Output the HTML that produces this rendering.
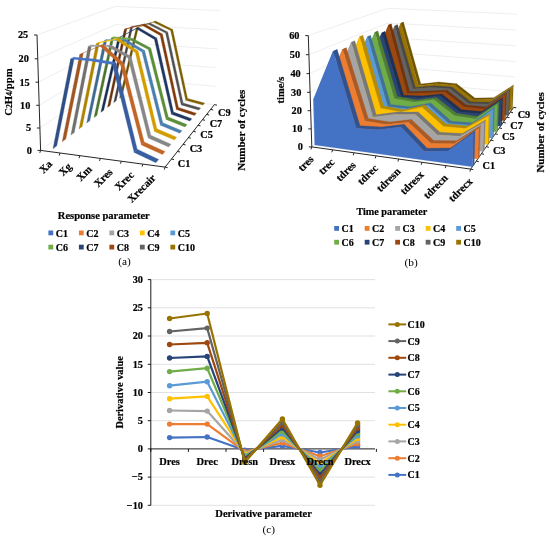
<!DOCTYPE html>
<html><head><meta charset="utf-8"><title>Figure</title>
<style>html,body{margin:0;padding:0;background:#fff}svg{display:block}text{font-family:"Liberation Serif",serif}</style></head>
<body>
<svg width="550" height="537" viewBox="0 0 550 537" font-family="Liberation Serif, serif">
<line x1="40.6" y1="150.4" x2="115.9" y2="95.0" stroke="#E6E6E6" stroke-width="0.7"/>
<line x1="115.9" y1="95.0" x2="214.4" y2="104.6" stroke="#E6E6E6" stroke-width="0.7"/>
<line x1="39.9" y1="128.0" x2="115.8" y2="77.7" stroke="#E6E6E6" stroke-width="0.7"/>
<line x1="115.8" y1="77.7" x2="215.5" y2="86.3" stroke="#E6E6E6" stroke-width="0.7"/>
<line x1="39.2" y1="105.3" x2="115.6" y2="60.2" stroke="#E6E6E6" stroke-width="0.7"/>
<line x1="115.6" y1="60.2" x2="216.6" y2="67.7" stroke="#E6E6E6" stroke-width="0.7"/>
<line x1="38.5" y1="82.2" x2="115.5" y2="42.5" stroke="#E6E6E6" stroke-width="0.7"/>
<line x1="115.5" y1="42.5" x2="217.7" y2="48.9" stroke="#E6E6E6" stroke-width="0.7"/>
<line x1="37.7" y1="58.8" x2="115.4" y2="24.6" stroke="#E6E6E6" stroke-width="0.7"/>
<line x1="115.4" y1="24.6" x2="218.9" y2="29.8" stroke="#E6E6E6" stroke-width="0.7"/>
<line x1="37.0" y1="35.0" x2="115.3" y2="6.4" stroke="#E6E6E6" stroke-width="0.7"/>
<line x1="115.3" y1="6.4" x2="220.0" y2="10.5" stroke="#E6E6E6" stroke-width="0.7"/>
<line x1="40.6" y1="150.4" x2="37.0" y2="35.0" stroke="#262626" stroke-width="1.0"/>
<line x1="40.6" y1="150.4" x2="165.1" y2="167.1" stroke="#262626" stroke-width="1.0"/>
<line x1="165.1" y1="167.1" x2="214.4" y2="104.6" stroke="#262626" stroke-width="1.0"/>
<line x1="37.6" y1="150.4" x2="40.6" y2="150.4" stroke="#262626" stroke-width="1.0"/>
<line x1="36.9" y1="128.0" x2="39.9" y2="128.0" stroke="#262626" stroke-width="1.0"/>
<line x1="36.2" y1="105.3" x2="39.2" y2="105.3" stroke="#262626" stroke-width="1.0"/>
<line x1="35.5" y1="82.2" x2="38.5" y2="82.2" stroke="#262626" stroke-width="1.0"/>
<line x1="34.7" y1="58.8" x2="37.7" y2="58.8" stroke="#262626" stroke-width="1.0"/>
<line x1="34.0" y1="35.0" x2="37.0" y2="35.0" stroke="#262626" stroke-width="1.0"/>
<line x1="40.6" y1="150.4" x2="39.8" y2="152.9" stroke="#262626" stroke-width="1.0"/>
<line x1="60.0" y1="153.0" x2="59.2" y2="155.5" stroke="#262626" stroke-width="1.0"/>
<line x1="79.8" y1="155.7" x2="79.0" y2="158.2" stroke="#262626" stroke-width="1.0"/>
<line x1="100.3" y1="158.4" x2="99.5" y2="160.9" stroke="#262626" stroke-width="1.0"/>
<line x1="121.3" y1="161.2" x2="120.5" y2="163.7" stroke="#262626" stroke-width="1.0"/>
<line x1="142.9" y1="164.1" x2="142.1" y2="166.6" stroke="#262626" stroke-width="1.0"/>
<line x1="165.1" y1="167.1" x2="164.3" y2="169.6" stroke="#262626" stroke-width="1.0"/>
<line x1="165.1" y1="167.1" x2="167.7" y2="167.7" stroke="#262626" stroke-width="1.0"/>
<line x1="171.4" y1="159.0" x2="174.0" y2="159.6" stroke="#262626" stroke-width="1.0"/>
<line x1="177.4" y1="151.4" x2="180.0" y2="152.0" stroke="#262626" stroke-width="1.0"/>
<line x1="183.0" y1="144.3" x2="185.6" y2="144.9" stroke="#262626" stroke-width="1.0"/>
<line x1="188.3" y1="137.6" x2="190.9" y2="138.2" stroke="#262626" stroke-width="1.0"/>
<line x1="193.2" y1="131.3" x2="195.8" y2="131.9" stroke="#262626" stroke-width="1.0"/>
<line x1="197.9" y1="125.3" x2="200.5" y2="125.9" stroke="#262626" stroke-width="1.0"/>
<line x1="202.4" y1="119.7" x2="205.0" y2="120.3" stroke="#262626" stroke-width="1.0"/>
<line x1="206.6" y1="114.4" x2="209.2" y2="115.0" stroke="#262626" stroke-width="1.0"/>
<line x1="210.6" y1="109.4" x2="213.2" y2="110.0" stroke="#262626" stroke-width="1.0"/>
<line x1="214.4" y1="104.6" x2="217.0" y2="105.2" stroke="#262626" stroke-width="1.0"/>
<polygon points="119.6,98.1 136.2,28.1 138.5,27.0 122.0,96.4" fill="#684E00" stroke="#684E00" stroke-width="0.3"/>
<polygon points="136.2,28.1 153.4,22.2 155.6,21.1 138.5,27.0" fill="#997300" stroke="#997300" stroke-width="0.3"/>
<polygon points="153.4,22.2 170.7,30.6 172.7,29.5 155.6,21.1" fill="#7D5E00" stroke="#7D5E00" stroke-width="0.3"/>
<polygon points="170.7,30.6 185.7,100.2 187.5,98.4 172.7,29.5" fill="#7D5E00" stroke="#7D5E00" stroke-width="0.3"/>
<polygon points="185.7,100.2 203.0,105.1 204.6,103.1 187.5,98.4" fill="#7D5E00" stroke="#7D5E00" stroke-width="0.3"/>
<polygon points="113.7,102.6 130.4,27.4 132.8,26.3 116.2,100.8" fill="#434343" stroke="#434343" stroke-width="0.3"/>
<polygon points="130.4,27.4 147.9,24.1 150.2,23.0 132.8,26.3" fill="#636363" stroke="#636363" stroke-width="0.3"/>
<polygon points="147.9,24.1 165.6,33.1 167.7,31.9 150.2,23.0" fill="#515151" stroke="#515151" stroke-width="0.3"/>
<polygon points="165.6,33.1 181.2,104.9 183.1,103.0 167.7,31.9" fill="#515151" stroke="#515151" stroke-width="0.3"/>
<polygon points="181.2,104.9 198.8,110.1 200.6,108.1 183.1,103.0" fill="#515151" stroke="#515151" stroke-width="0.3"/>
<polygon points="107.5,107.3 124.3,29.5 126.9,28.3 110.1,105.4" fill="#6B310A" stroke="#6B310A" stroke-width="0.3"/>
<polygon points="124.3,29.5 142.1,25.3 144.6,24.1 126.9,28.3" fill="#9E480E" stroke="#9E480E" stroke-width="0.3"/>
<polygon points="142.1,25.3 160.2,35.4 162.4,34.1 144.6,24.1" fill="#823B0B" stroke="#823B0B" stroke-width="0.3"/>
<polygon points="160.2,35.4 176.4,109.5 178.4,107.4 162.4,34.1" fill="#823B0B" stroke="#823B0B" stroke-width="0.3"/>
<polygon points="176.4,109.5 194.5,115.4 196.3,113.3 178.4,107.4" fill="#823B0B" stroke="#823B0B" stroke-width="0.3"/>
<polygon points="100.9,112.3 117.9,38.2 120.6,36.9 103.7,110.2" fill="#1A2E52" stroke="#1A2E52" stroke-width="0.3"/>
<polygon points="117.9,38.2 136.0,28.6 138.6,27.4 120.6,36.9" fill="#1A2E52" stroke="#1A2E52" stroke-width="0.3"/>
<polygon points="136.0,28.6 154.4,39.4 156.8,38.1 138.6,27.4" fill="#1F3862" stroke="#1F3862" stroke-width="0.3"/>
<polygon points="154.4,39.4 171.4,114.3 173.5,112.1 156.8,38.1" fill="#1F3862" stroke="#1F3862" stroke-width="0.3"/>
<polygon points="171.4,114.3 189.9,121.0 191.8,118.8 173.5,112.1" fill="#1F3862" stroke="#1F3862" stroke-width="0.3"/>
<polygon points="94.0,117.5 111.1,38.2 113.9,36.8 96.9,115.4" fill="#4C7630" stroke="#4C7630" stroke-width="0.3"/>
<polygon points="111.1,38.2 129.6,39.7 132.2,38.3 113.9,36.8" fill="#70AD47" stroke="#70AD47" stroke-width="0.3"/>
<polygon points="129.6,39.7 148.3,49.6 150.8,48.1 132.2,38.3" fill="#5C8E3A" stroke="#5C8E3A" stroke-width="0.3"/>
<polygon points="148.3,49.6 166.1,119.4 168.3,117.1 150.8,48.1" fill="#5C8E3A" stroke="#5C8E3A" stroke-width="0.3"/>
<polygon points="166.1,119.4 185.0,127.0 187.0,124.6 168.3,117.1" fill="#5C8E3A" stroke="#5C8E3A" stroke-width="0.3"/>
<polygon points="86.7,123.1 103.9,40.8 106.9,39.4 89.8,120.8" fill="#3E6991" stroke="#3E6991" stroke-width="0.3"/>
<polygon points="103.9,40.8 122.8,40.6 125.6,39.2 106.9,39.4" fill="#5B9BD5" stroke="#5B9BD5" stroke-width="0.3"/>
<polygon points="122.8,40.6 142.0,52.1 144.6,50.5 125.6,39.2" fill="#4B7FAF" stroke="#4B7FAF" stroke-width="0.3"/>
<polygon points="142.0,52.1 160.4,125.2 162.8,122.8 144.6,50.5" fill="#4B7FAF" stroke="#4B7FAF" stroke-width="0.3"/>
<polygon points="160.4,125.2 179.8,133.3 182.0,130.7 162.8,122.8" fill="#4B7FAF" stroke="#4B7FAF" stroke-width="0.3"/>
<polygon points="79.0,128.9 96.3,43.5 99.5,42.0 82.2,126.5" fill="#AD8300" stroke="#AD8300" stroke-width="0.3"/>
<polygon points="96.3,43.5 115.6,39.8 118.6,38.3 99.5,42.0" fill="#FFC000" stroke="#FFC000" stroke-width="0.3"/>
<polygon points="115.6,39.8 135.3,52.6 138.1,50.9 118.6,38.3" fill="#D19D00" stroke="#D19D00" stroke-width="0.3"/>
<polygon points="135.3,52.6 154.4,131.4 156.9,128.8 138.1,50.9" fill="#D19D00" stroke="#D19D00" stroke-width="0.3"/>
<polygon points="154.4,131.4 174.4,139.9 176.7,137.2 156.9,128.8" fill="#D19D00" stroke="#D19D00" stroke-width="0.3"/>
<polygon points="70.9,135.1 88.2,46.4 91.6,44.9 74.3,132.5" fill="#707070" stroke="#707070" stroke-width="0.3"/>
<polygon points="88.2,46.4 107.9,46.7 111.1,45.1 91.6,44.9" fill="#A5A5A5" stroke="#A5A5A5" stroke-width="0.3"/>
<polygon points="107.9,46.7 128.1,58.1 131.1,56.4 111.1,45.1" fill="#878787" stroke="#878787" stroke-width="0.3"/>
<polygon points="128.1,58.1 148.1,137.9 150.8,135.2 131.1,56.4" fill="#878787" stroke="#878787" stroke-width="0.3"/>
<polygon points="148.1,137.9 168.6,147.0 171.0,144.2 150.8,135.2" fill="#878787" stroke="#878787" stroke-width="0.3"/>
<polygon points="62.2,141.7 79.7,54.6 83.3,52.9 65.8,138.9" fill="#A15521" stroke="#A15521" stroke-width="0.3"/>
<polygon points="79.7,54.6 99.8,46.1 103.2,44.5 83.3,52.9" fill="#A15521" stroke="#A15521" stroke-width="0.3"/>
<polygon points="99.8,46.1 120.6,65.0 123.7,63.1 103.2,44.5" fill="#C26628" stroke="#C26628" stroke-width="0.3"/>
<polygon points="120.6,65.0 141.4,144.9 144.2,142.0 123.7,63.1" fill="#C26628" stroke="#C26628" stroke-width="0.3"/>
<polygon points="141.4,144.9 162.5,154.6 165.0,151.6 144.2,142.0" fill="#C26628" stroke="#C26628" stroke-width="0.3"/>
<polygon points="53.0,148.7 70.6,59.1 74.4,57.2 56.8,145.8" fill="#2E4E85" stroke="#2E4E85" stroke-width="0.3"/>
<polygon points="70.6,59.1 91.2,61.0 94.8,59.1 74.4,57.2" fill="#4472C4" stroke="#4472C4" stroke-width="0.3"/>
<polygon points="91.2,61.0 112.4,64.5 115.8,62.5 94.8,59.1" fill="#4472C4" stroke="#4472C4" stroke-width="0.3"/>
<polygon points="112.4,64.5 134.2,152.4 137.2,149.2 115.8,62.5" fill="#385DA1" stroke="#385DA1" stroke-width="0.3"/>
<polygon points="134.2,152.4 155.9,162.7 158.7,159.4 137.2,149.2" fill="#385DA1" stroke="#385DA1" stroke-width="0.3"/>
<line x1="311.8" y1="146.9" x2="388.2" y2="94.7" stroke="#E6E6E6" stroke-width="0.7"/>
<line x1="388.2" y1="94.7" x2="513.7" y2="107.3" stroke="#E6E6E6" stroke-width="0.7"/>
<line x1="311.2" y1="128.9" x2="388.1" y2="80.7" stroke="#E6E6E6" stroke-width="0.7"/>
<line x1="388.1" y1="80.7" x2="514.3" y2="92.2" stroke="#E6E6E6" stroke-width="0.7"/>
<line x1="310.6" y1="110.7" x2="388.1" y2="66.5" stroke="#E6E6E6" stroke-width="0.7"/>
<line x1="388.1" y1="66.5" x2="514.8" y2="76.9" stroke="#E6E6E6" stroke-width="0.7"/>
<line x1="310.1" y1="92.3" x2="388.0" y2="52.1" stroke="#E6E6E6" stroke-width="0.7"/>
<line x1="388.0" y1="52.1" x2="515.4" y2="61.5" stroke="#E6E6E6" stroke-width="0.7"/>
<line x1="309.5" y1="73.6" x2="387.9" y2="37.6" stroke="#E6E6E6" stroke-width="0.7"/>
<line x1="387.9" y1="37.6" x2="516.0" y2="45.9" stroke="#E6E6E6" stroke-width="0.7"/>
<line x1="308.9" y1="54.7" x2="387.8" y2="23.0" stroke="#E6E6E6" stroke-width="0.7"/>
<line x1="387.8" y1="23.0" x2="516.6" y2="30.1" stroke="#E6E6E6" stroke-width="0.7"/>
<line x1="308.3" y1="35.6" x2="387.8" y2="8.3" stroke="#E6E6E6" stroke-width="0.7"/>
<line x1="387.8" y1="8.3" x2="517.2" y2="14.2" stroke="#E6E6E6" stroke-width="0.7"/>
<line x1="311.8" y1="146.9" x2="308.3" y2="35.6" stroke="#262626" stroke-width="1.0"/>
<line x1="311.8" y1="146.9" x2="470.7" y2="169.1" stroke="#262626" stroke-width="1.0"/>
<line x1="470.7" y1="169.1" x2="513.7" y2="107.3" stroke="#262626" stroke-width="1.0"/>
<line x1="308.8" y1="146.9" x2="311.8" y2="146.9" stroke="#262626" stroke-width="1.0"/>
<line x1="308.2" y1="128.9" x2="311.2" y2="128.9" stroke="#262626" stroke-width="1.0"/>
<line x1="307.6" y1="110.7" x2="310.6" y2="110.7" stroke="#262626" stroke-width="1.0"/>
<line x1="307.1" y1="92.3" x2="310.1" y2="92.3" stroke="#262626" stroke-width="1.0"/>
<line x1="306.5" y1="73.6" x2="309.5" y2="73.6" stroke="#262626" stroke-width="1.0"/>
<line x1="305.9" y1="54.7" x2="308.9" y2="54.7" stroke="#262626" stroke-width="1.0"/>
<line x1="305.3" y1="35.6" x2="308.3" y2="35.6" stroke="#262626" stroke-width="1.0"/>
<line x1="311.8" y1="146.9" x2="311.0" y2="149.4" stroke="#262626" stroke-width="1.0"/>
<line x1="332.6" y1="149.8" x2="331.8" y2="152.3" stroke="#262626" stroke-width="1.0"/>
<line x1="354.0" y1="152.8" x2="353.2" y2="155.3" stroke="#262626" stroke-width="1.0"/>
<line x1="376.0" y1="155.9" x2="375.2" y2="158.4" stroke="#262626" stroke-width="1.0"/>
<line x1="398.7" y1="159.0" x2="397.9" y2="161.5" stroke="#262626" stroke-width="1.0"/>
<line x1="422.0" y1="162.3" x2="421.2" y2="164.8" stroke="#262626" stroke-width="1.0"/>
<line x1="446.0" y1="165.6" x2="445.2" y2="168.1" stroke="#262626" stroke-width="1.0"/>
<line x1="470.7" y1="169.1" x2="469.9" y2="171.6" stroke="#262626" stroke-width="1.0"/>
<line x1="470.7" y1="169.1" x2="473.3" y2="169.7" stroke="#262626" stroke-width="1.0"/>
<line x1="476.2" y1="161.1" x2="478.8" y2="161.7" stroke="#262626" stroke-width="1.0"/>
<line x1="481.4" y1="153.7" x2="484.0" y2="154.3" stroke="#262626" stroke-width="1.0"/>
<line x1="486.3" y1="146.7" x2="488.9" y2="147.3" stroke="#262626" stroke-width="1.0"/>
<line x1="490.9" y1="140.1" x2="493.5" y2="140.7" stroke="#262626" stroke-width="1.0"/>
<line x1="495.2" y1="133.8" x2="497.8" y2="134.4" stroke="#262626" stroke-width="1.0"/>
<line x1="499.3" y1="127.9" x2="501.9" y2="128.5" stroke="#262626" stroke-width="1.0"/>
<line x1="503.2" y1="122.4" x2="505.8" y2="123.0" stroke="#262626" stroke-width="1.0"/>
<line x1="506.9" y1="117.1" x2="509.5" y2="117.7" stroke="#262626" stroke-width="1.0"/>
<line x1="510.4" y1="112.1" x2="513.0" y2="112.7" stroke="#262626" stroke-width="1.0"/>
<line x1="513.7" y1="107.3" x2="516.3" y2="107.9" stroke="#262626" stroke-width="1.0"/>
<polygon points="383.8,61.6 401.0,23.2 403.4,22.1 386.3,60.2" fill="#6E5300" stroke="#6E5300" stroke-width="0.3"/>
<polygon points="401.0,23.2 418.5,85.8 420.8,84.1 403.4,22.1" fill="#6E5300" stroke="#6E5300" stroke-width="0.3"/>
<polygon points="418.5,85.8 436.4,83.7 438.5,82.1 420.8,84.1" fill="#6E5300" stroke="#6E5300" stroke-width="0.3"/>
<polygon points="436.4,83.7 454.7,85.4 456.6,83.7 438.5,82.1" fill="#6E5300" stroke="#6E5300" stroke-width="0.3"/>
<polygon points="454.7,85.4 473.1,99.9 474.9,98.1 456.6,83.7" fill="#6E5300" stroke="#6E5300" stroke-width="0.3"/>
<polygon points="473.1,99.9 492.2,99.5 493.8,97.7 474.9,98.1" fill="#6E5300" stroke="#6E5300" stroke-width="0.3"/>
<polygon points="492.2,99.5 512.3,86.7 513.7,85.0 493.8,97.7" fill="#6E5300" stroke="#6E5300" stroke-width="0.3"/>
<polygon points="511.4,110.6 512.4,109.1 513.3,85.4 512.3,86.7" fill="#7A5C00" stroke="#7A5C00" stroke-width="0.3"/>
<polygon points="384.0,97.6 383.8,61.6 401.0,23.2 418.5,85.8 436.4,83.7 454.7,85.4 473.1,99.9 492.2,99.5 512.3,86.7 511.4,110.6" fill="#997300" stroke="#997300" stroke-width="0.3"/>
<polygon points="377.5,65.0 394.9,25.9 397.5,24.8 380.2,63.6" fill="#474747" stroke="#474747" stroke-width="0.3"/>
<polygon points="394.9,25.9 413.0,89.1 415.3,87.4 397.5,24.8" fill="#474747" stroke="#474747" stroke-width="0.3"/>
<polygon points="413.0,89.1 431.3,87.5 433.5,85.8 415.3,87.4" fill="#474747" stroke="#474747" stroke-width="0.3"/>
<polygon points="431.3,87.5 450.0,88.8 452.0,87.0 433.5,85.8" fill="#474747" stroke="#474747" stroke-width="0.3"/>
<polygon points="450.0,88.8 468.8,103.7 470.6,101.8 452.0,87.0" fill="#474747" stroke="#474747" stroke-width="0.3"/>
<polygon points="468.8,103.7 488.3,104.1 490.0,102.2 470.6,101.8" fill="#474747" stroke="#474747" stroke-width="0.3"/>
<polygon points="488.3,104.1 508.8,91.1 510.3,89.2 490.0,102.2" fill="#474747" stroke="#474747" stroke-width="0.3"/>
<polygon points="508.0,115.6 509.1,114.0 509.9,89.7 508.8,91.1" fill="#4F4F4F" stroke="#4F4F4F" stroke-width="0.3"/>
<polygon points="377.8,101.8 377.5,65.0 394.9,25.9 413.0,89.1 431.3,87.5 450.0,88.8 468.8,103.7 488.3,104.1 508.8,91.1 508.0,115.6" fill="#636363" stroke="#636363" stroke-width="0.3"/>
<polygon points="370.9,68.6 388.6,25.1 391.3,24.0 373.7,67.1" fill="#72340A" stroke="#72340A" stroke-width="0.3"/>
<polygon points="388.6,25.1 407.1,93.4 409.6,91.6 391.3,24.0" fill="#72340A" stroke="#72340A" stroke-width="0.3"/>
<polygon points="407.1,93.4 425.8,92.9 428.1,91.1 409.6,91.6" fill="#72340A" stroke="#72340A" stroke-width="0.3"/>
<polygon points="425.8,92.9 445.0,92.1 447.1,90.2 428.1,91.1" fill="#72340A" stroke="#72340A" stroke-width="0.3"/>
<polygon points="445.0,92.1 464.3,106.9 466.2,104.9 447.1,90.2" fill="#72340A" stroke="#72340A" stroke-width="0.3"/>
<polygon points="464.3,106.9 484.2,109.0 486.0,106.9 466.2,104.9" fill="#72340A" stroke="#72340A" stroke-width="0.3"/>
<polygon points="484.2,109.0 505.2,94.8 506.8,92.9 486.0,106.9" fill="#72340A" stroke="#72340A" stroke-width="0.3"/>
<polygon points="504.3,120.8 505.5,119.1 506.4,93.4 505.2,94.8" fill="#7E3A0B" stroke="#7E3A0B" stroke-width="0.3"/>
<polygon points="371.3,106.3 370.9,68.6 388.6,25.1 407.1,93.4 425.8,92.9 445.0,92.1 464.3,106.9 484.2,109.0 505.2,94.8 504.3,120.8" fill="#9E480E" stroke="#9E480E" stroke-width="0.3"/>
<polygon points="363.9,72.4 381.9,32.9 384.8,31.6 366.9,70.8" fill="#1B3156" stroke="#1B3156" stroke-width="0.3"/>
<polygon points="381.9,32.9 401.0,97.1 403.6,95.2 384.8,31.6" fill="#1B3156" stroke="#1B3156" stroke-width="0.3"/>
<polygon points="401.0,97.1 420.1,97.9 422.5,96.0 403.6,95.2" fill="#1B3156" stroke="#1B3156" stroke-width="0.3"/>
<polygon points="420.1,97.9 439.7,95.8 441.9,93.9 422.5,96.0" fill="#1B3156" stroke="#1B3156" stroke-width="0.3"/>
<polygon points="439.7,95.8 459.5,111.9 461.5,109.8 441.9,93.9" fill="#1B3156" stroke="#1B3156" stroke-width="0.3"/>
<polygon points="459.5,111.9 479.9,113.8 481.8,111.6 461.5,109.8" fill="#1B3156" stroke="#1B3156" stroke-width="0.3"/>
<polygon points="479.9,113.8 501.4,99.7 503.0,97.6 481.8,111.6" fill="#1B3156" stroke="#1B3156" stroke-width="0.3"/>
<polygon points="500.5,126.2 501.8,124.5 502.7,98.1 501.4,99.7" fill="#1E3660" stroke="#1E3660" stroke-width="0.3"/>
<polygon points="364.4,111.0 363.9,72.4 381.9,32.9 401.0,97.1 420.1,97.9 439.7,95.8 459.5,111.9 479.9,113.8 501.4,99.7 500.5,126.2" fill="#264478" stroke="#264478" stroke-width="0.3"/>
<polygon points="356.6,76.4 374.9,32.4 377.9,31.1 359.7,74.7" fill="#517D33" stroke="#517D33" stroke-width="0.3"/>
<polygon points="374.9,32.4 394.5,98.5 397.3,96.6 377.9,31.1" fill="#517D33" stroke="#517D33" stroke-width="0.3"/>
<polygon points="394.5,98.5 414.1,102.0 416.6,100.0 397.3,96.6" fill="#517D33" stroke="#517D33" stroke-width="0.3"/>
<polygon points="414.1,102.0 434.1,99.6 436.5,97.6 416.6,100.0" fill="#517D33" stroke="#517D33" stroke-width="0.3"/>
<polygon points="434.1,99.6 454.4,115.5 456.6,113.3 436.5,97.6" fill="#517D33" stroke="#517D33" stroke-width="0.3"/>
<polygon points="454.4,115.5 475.4,118.7 477.3,116.4 456.6,113.3" fill="#517D33" stroke="#517D33" stroke-width="0.3"/>
<polygon points="475.4,118.7 497.4,103.9 499.1,101.7 477.3,116.4" fill="#517D33" stroke="#517D33" stroke-width="0.3"/>
<polygon points="496.5,132.0 497.8,130.1 498.7,102.2 497.4,103.9" fill="#5A8A39" stroke="#5A8A39" stroke-width="0.3"/>
<polygon points="357.2,115.9 356.6,76.4 374.9,32.4 394.5,98.5 414.1,102.0 434.1,99.6 454.4,115.5 475.4,118.7 497.4,103.9 496.5,132.0" fill="#70AD47" stroke="#70AD47" stroke-width="0.3"/>
<polygon points="348.9,80.6 367.5,36.8 370.6,35.5 352.2,78.8" fill="#427099" stroke="#427099" stroke-width="0.3"/>
<polygon points="367.5,36.8 387.7,106.7 390.7,104.6 370.6,35.5" fill="#427099" stroke="#427099" stroke-width="0.3"/>
<polygon points="387.7,106.7 407.7,108.9 410.4,106.7 390.7,104.6" fill="#427099" stroke="#427099" stroke-width="0.3"/>
<polygon points="407.7,108.9 428.2,105.2 430.7,103.0 410.4,106.7" fill="#427099" stroke="#427099" stroke-width="0.3"/>
<polygon points="428.2,105.2 449.0,123.6 451.3,121.2 430.7,103.0" fill="#427099" stroke="#427099" stroke-width="0.3"/>
<polygon points="449.0,123.6 470.5,125.2 472.6,122.8 451.3,121.2" fill="#427099" stroke="#427099" stroke-width="0.3"/>
<polygon points="470.5,125.2 493.1,109.3 494.9,107.0 472.6,122.8" fill="#427099" stroke="#427099" stroke-width="0.3"/>
<polygon points="492.2,138.2 493.6,136.2 494.5,107.5 493.1,109.3" fill="#497CAA" stroke="#497CAA" stroke-width="0.3"/>
<polygon points="349.6,121.1 348.9,80.6 367.5,36.8 387.7,106.7 407.7,108.9 428.2,105.2 449.0,123.6 470.5,125.2 493.1,109.3 492.2,138.2" fill="#5B9BD5" stroke="#5B9BD5" stroke-width="0.3"/>
<polygon points="340.7,85.0 359.6,36.8 362.9,35.4 344.2,83.1" fill="#B88A00" stroke="#B88A00" stroke-width="0.3"/>
<polygon points="359.6,36.8 380.5,108.2 383.6,106.0 362.9,35.4" fill="#B88A00" stroke="#B88A00" stroke-width="0.3"/>
<polygon points="380.5,108.2 401.0,112.0 403.9,109.8 383.6,106.0" fill="#B88A00" stroke="#B88A00" stroke-width="0.3"/>
<polygon points="401.0,112.0 422.0,107.2 424.7,104.9 403.9,109.8" fill="#B88A00" stroke="#B88A00" stroke-width="0.3"/>
<polygon points="422.0,107.2 443.4,126.4 445.8,123.9 424.7,104.9" fill="#B88A00" stroke="#B88A00" stroke-width="0.3"/>
<polygon points="443.4,126.4 465.5,128.6 467.6,126.0 445.8,123.9" fill="#B88A00" stroke="#B88A00" stroke-width="0.3"/>
<polygon points="465.5,128.6 488.6,115.9 490.5,113.4 467.6,126.0" fill="#B88A00" stroke="#B88A00" stroke-width="0.3"/>
<polygon points="487.7,144.6 489.2,142.5 490.0,114.0 488.6,115.9" fill="#CC9A00" stroke="#CC9A00" stroke-width="0.3"/>
<polygon points="341.6,126.5 340.7,85.0 359.6,36.8 380.5,108.2 401.0,112.0 422.0,107.2 443.4,126.4 465.5,128.6 488.6,115.9 487.7,144.6" fill="#FFC000" stroke="#FFC000" stroke-width="0.3"/>
<polygon points="332.1,89.7 351.3,42.4 354.8,40.9 335.8,87.7" fill="#777777" stroke="#777777" stroke-width="0.3"/>
<polygon points="351.3,42.4 372.9,117.2 376.2,114.8 354.8,40.9" fill="#777777" stroke="#777777" stroke-width="0.3"/>
<polygon points="372.9,117.2 393.9,114.4 396.9,112.1 376.2,114.8" fill="#777777" stroke="#777777" stroke-width="0.3"/>
<polygon points="393.9,114.4 415.4,114.4 418.2,112.0 396.9,112.1" fill="#777777" stroke="#777777" stroke-width="0.3"/>
<polygon points="415.4,114.4 437.4,134.9 439.9,132.2 418.2,112.0" fill="#777777" stroke="#777777" stroke-width="0.3"/>
<polygon points="437.4,134.9 460.0,136.2 462.3,133.5 439.9,132.2" fill="#777777" stroke="#777777" stroke-width="0.3"/>
<polygon points="460.0,136.2 483.7,122.5 485.8,119.9 462.3,133.5" fill="#777777" stroke="#777777" stroke-width="0.3"/>
<polygon points="482.9,151.5 484.5,149.3 485.3,120.5 483.7,122.5" fill="#848484" stroke="#848484" stroke-width="0.3"/>
<polygon points="333.1,132.3 332.1,89.7 351.3,42.4 372.9,117.2 393.9,114.4 415.4,114.4 437.4,134.9 460.0,136.2 483.7,122.5 482.9,151.5" fill="#A5A5A5" stroke="#A5A5A5" stroke-width="0.3"/>
<polygon points="323.0,94.6 342.6,49.4 346.3,47.8 326.9,92.5" fill="#AB5A23" stroke="#AB5A23" stroke-width="0.3"/>
<polygon points="342.6,49.4 364.9,120.9 368.3,118.4 346.3,47.8" fill="#AB5A23" stroke="#AB5A23" stroke-width="0.3"/>
<polygon points="364.9,120.9 386.3,124.5 389.6,121.9 368.3,118.4" fill="#AB5A23" stroke="#AB5A23" stroke-width="0.3"/>
<polygon points="386.3,124.5 408.4,122.2 411.4,119.6 389.6,121.9" fill="#AB5A23" stroke="#AB5A23" stroke-width="0.3"/>
<polygon points="408.4,122.2 431.0,143.4 433.7,140.5 411.4,119.6" fill="#AB5A23" stroke="#AB5A23" stroke-width="0.3"/>
<polygon points="431.0,143.4 454.2,143.7 456.7,140.8 433.7,140.5" fill="#AB5A23" stroke="#AB5A23" stroke-width="0.3"/>
<polygon points="454.2,143.7 478.6,128.4 480.8,125.6 456.7,140.8" fill="#AB5A23" stroke="#AB5A23" stroke-width="0.3"/>
<polygon points="477.8,158.9 479.5,156.5 480.3,126.3 478.6,128.4" fill="#BE6427" stroke="#BE6427" stroke-width="0.3"/>
<polygon points="324.2,138.4 323.0,94.6 342.6,49.4 364.9,120.9 386.3,124.5 408.4,122.2 431.0,143.4 454.2,143.7 478.6,128.4 477.8,158.9" fill="#ED7D31" stroke="#ED7D31" stroke-width="0.3"/>
<polygon points="313.4,99.9 333.2,51.3 337.2,49.6 317.5,97.6" fill="#31528D" stroke="#31528D" stroke-width="0.3"/>
<polygon points="333.2,51.3 356.3,128.3 360.0,125.7 337.2,49.6" fill="#31528D" stroke="#31528D" stroke-width="0.3"/>
<polygon points="356.3,128.3 378.3,129.7 381.7,127.0 360.0,125.7" fill="#31528D" stroke="#31528D" stroke-width="0.3"/>
<polygon points="378.3,129.7 401.0,127.0 404.1,124.3 381.7,127.0" fill="#31528D" stroke="#31528D" stroke-width="0.3"/>
<polygon points="401.0,127.0 424.2,151.3 427.1,148.2 404.1,124.3" fill="#31528D" stroke="#31528D" stroke-width="0.3"/>
<polygon points="424.2,151.3 448.1,151.0 450.7,147.9 427.1,148.2" fill="#31528D" stroke="#31528D" stroke-width="0.3"/>
<polygon points="448.1,151.0 473.2,133.3 475.5,130.3 450.7,147.9" fill="#31528D" stroke="#31528D" stroke-width="0.3"/>
<polygon points="472.4,166.7 474.2,164.1 475.0,131.0 473.2,133.3" fill="#365B9D" stroke="#365B9D" stroke-width="0.3"/>
<polygon points="314.7,144.9 313.4,99.9 333.2,51.3 356.3,128.3 378.3,129.7 401.0,127.0 424.2,151.3 448.1,151.0 473.2,133.3 472.4,166.7" fill="#4472C4" stroke="#4472C4" stroke-width="0.3"/>
<text x="31.8" y="153.7" font-size="10.3" text-anchor="end" font-weight="bold" stroke="#000" stroke-width="0.2" fill="#000">0</text>
<text x="31.1" y="131.3" font-size="10.3" text-anchor="end" font-weight="bold" stroke="#000" stroke-width="0.2" fill="#000">5</text>
<text x="30.4" y="108.6" font-size="10.3" text-anchor="end" font-weight="bold" stroke="#000" stroke-width="0.2" fill="#000">10</text>
<text x="29.7" y="85.5" font-size="10.3" text-anchor="end" font-weight="bold" stroke="#000" stroke-width="0.2" fill="#000">15</text>
<text x="28.9" y="62.1" font-size="10.3" text-anchor="end" font-weight="bold" stroke="#000" stroke-width="0.2" fill="#000">20</text>
<text x="28.2" y="38.3" font-size="10.3" text-anchor="end" font-weight="bold" stroke="#000" stroke-width="0.2" fill="#000">25</text>
<text x="303.0" y="150.2" font-size="10.3" text-anchor="end" font-weight="bold" stroke="#000" stroke-width="0.2" fill="#000">0</text>
<text x="302.4" y="132.2" font-size="10.3" text-anchor="end" font-weight="bold" stroke="#000" stroke-width="0.2" fill="#000">10</text>
<text x="301.8" y="114.0" font-size="10.3" text-anchor="end" font-weight="bold" stroke="#000" stroke-width="0.2" fill="#000">20</text>
<text x="301.3" y="95.6" font-size="10.3" text-anchor="end" font-weight="bold" stroke="#000" stroke-width="0.2" fill="#000">30</text>
<text x="300.7" y="76.9" font-size="10.3" text-anchor="end" font-weight="bold" stroke="#000" stroke-width="0.2" fill="#000">40</text>
<text x="300.1" y="58.0" font-size="10.3" text-anchor="end" font-weight="bold" stroke="#000" stroke-width="0.2" fill="#000">50</text>
<text x="299.5" y="38.9" font-size="10.3" text-anchor="end" font-weight="bold" stroke="#000" stroke-width="0.2" fill="#000">60</text>
<text x="177.8" y="167.0" font-size="10.3" text-anchor="start" font-weight="bold" stroke="#000" stroke-width="0.2" fill="#000">C1</text>
<text x="482.5" y="168.6" font-size="10.3" text-anchor="start" font-weight="bold" stroke="#000" stroke-width="0.2" fill="#000">C1</text>
<text x="189.7" y="151.8" font-size="10.3" text-anchor="start" font-weight="bold" stroke="#000" stroke-width="0.2" fill="#000">C3</text>
<text x="492.9" y="153.6" font-size="10.3" text-anchor="start" font-weight="bold" stroke="#000" stroke-width="0.2" fill="#000">C3</text>
<text x="200.3" y="138.4" font-size="10.3" text-anchor="start" font-weight="bold" stroke="#000" stroke-width="0.2" fill="#000">C5</text>
<text x="502.1" y="140.4" font-size="10.3" text-anchor="start" font-weight="bold" stroke="#000" stroke-width="0.2" fill="#000">C5</text>
<text x="209.7" y="126.5" font-size="10.3" text-anchor="start" font-weight="bold" stroke="#000" stroke-width="0.2" fill="#000">C7</text>
<text x="510.3" y="128.6" font-size="10.3" text-anchor="start" font-weight="bold" stroke="#000" stroke-width="0.2" fill="#000">C7</text>
<text x="218.1" y="115.9" font-size="10.3" text-anchor="start" font-weight="bold" stroke="#000" stroke-width="0.2" fill="#000">C9</text>
<text x="517.7" y="118.1" font-size="10.3" text-anchor="start" font-weight="bold" stroke="#000" stroke-width="0.2" fill="#000">C9</text>
<text x="52.7" y="164.7" font-size="10.7" text-anchor="end" font-weight="bold" stroke="#000" stroke-width="0.2" fill="#000" transform="rotate(-45 52.7 164.7)">Xa</text>
<text x="72.3" y="167.3" font-size="10.7" text-anchor="end" font-weight="bold" stroke="#000" stroke-width="0.2" fill="#000" transform="rotate(-45 72.3 167.3)">Xg</text>
<text x="92.5" y="170.0" font-size="10.7" text-anchor="end" font-weight="bold" stroke="#000" stroke-width="0.2" fill="#000" transform="rotate(-45 92.5 170.0)">Xm</text>
<text x="113.2" y="172.8" font-size="10.7" text-anchor="end" font-weight="bold" stroke="#000" stroke-width="0.2" fill="#000" transform="rotate(-45 113.2 172.8)">Xres</text>
<text x="134.5" y="175.7" font-size="10.7" text-anchor="end" font-weight="bold" stroke="#000" stroke-width="0.2" fill="#000" transform="rotate(-45 134.5 175.7)">Xrec</text>
<text x="156.4" y="178.6" font-size="10.7" text-anchor="end" font-weight="bold" stroke="#000" stroke-width="0.2" fill="#000" transform="rotate(-45 156.4 178.6)">Xrecair</text>
<text x="314.3" y="159.9" font-size="10.7" text-anchor="end" font-weight="bold" stroke="#000" stroke-width="0.2" fill="#000" transform="rotate(-45 314.3 159.9)">tres</text>
<text x="335.1" y="162.8" font-size="10.7" text-anchor="end" font-weight="bold" stroke="#000" stroke-width="0.2" fill="#000" transform="rotate(-45 335.1 162.8)">trec</text>
<text x="356.5" y="165.8" font-size="10.7" text-anchor="end" font-weight="bold" stroke="#000" stroke-width="0.2" fill="#000" transform="rotate(-45 356.5 165.8)">tdres</text>
<text x="378.5" y="168.9" font-size="10.7" text-anchor="end" font-weight="bold" stroke="#000" stroke-width="0.2" fill="#000" transform="rotate(-45 378.5 168.9)">tdrec</text>
<text x="401.2" y="172.0" font-size="10.7" text-anchor="end" font-weight="bold" stroke="#000" stroke-width="0.2" fill="#000" transform="rotate(-45 401.2 172.0)">tdresn</text>
<text x="424.5" y="175.3" font-size="10.7" text-anchor="end" font-weight="bold" stroke="#000" stroke-width="0.2" fill="#000" transform="rotate(-45 424.5 175.3)">tdresx</text>
<text x="448.5" y="178.6" font-size="10.7" text-anchor="end" font-weight="bold" stroke="#000" stroke-width="0.2" fill="#000" transform="rotate(-45 448.5 178.6)">tdrecn</text>
<text x="473.2" y="182.1" font-size="10.7" text-anchor="end" font-weight="bold" stroke="#000" stroke-width="0.2" fill="#000" transform="rotate(-45 473.2 182.1)">tdrecx</text>
<text x="244.8" y="130.2" font-size="11.0" text-anchor="middle" font-weight="bold" stroke="#000" stroke-width="0.2" fill="#000" transform="rotate(-90 244.8 130.2)">Number of cycles</text>
<text x="544.4" y="132.4" font-size="10.9" text-anchor="middle" font-weight="bold" stroke="#000" stroke-width="0.2" fill="#000" transform="rotate(-90 544.4 132.4)">Number of cycles</text>
<text x="12.3" y="92" font-size="10.7" font-weight="bold" stroke="#000" stroke-width="0.2" text-anchor="middle" transform="rotate(-90 12.3 92)">C<tspan font-size="7.5">2</tspan>H<tspan font-size="7.5">4</tspan>/ppm</text>
<text x="283.6" y="90.0" font-size="10.5" text-anchor="middle" font-weight="bold" stroke="#000" stroke-width="0.2" fill="#000" transform="rotate(-90 283.6 90.0)">time/s</text>
<text x="103.8" y="219.0" font-size="10.5" text-anchor="middle" font-weight="bold" stroke="#000" stroke-width="0.2" fill="#000">Response parameter</text>
<text x="391.8" y="215.0" font-size="10.2" text-anchor="middle" font-weight="bold" stroke="#000" stroke-width="0.2" fill="#000">Time parameter</text>
<rect x="48.4" y="230.5" width="4.8" height="4.8" fill="#4472C4"/>
<text x="55.7" y="236.5" font-size="10" text-anchor="start" font-weight="bold" stroke="#000" stroke-width="0.2" fill="#000">C1</text>
<rect x="78.9" y="230.5" width="4.8" height="4.8" fill="#ED7D31"/>
<text x="86.2" y="236.5" font-size="10" text-anchor="start" font-weight="bold" stroke="#000" stroke-width="0.2" fill="#000">C2</text>
<rect x="109.4" y="230.5" width="4.8" height="4.8" fill="#A5A5A5"/>
<text x="116.7" y="236.5" font-size="10" text-anchor="start" font-weight="bold" stroke="#000" stroke-width="0.2" fill="#000">C3</text>
<rect x="139.9" y="230.5" width="4.8" height="4.8" fill="#FFC000"/>
<text x="147.2" y="236.5" font-size="10" text-anchor="start" font-weight="bold" stroke="#000" stroke-width="0.2" fill="#000">C4</text>
<rect x="170.4" y="230.5" width="4.8" height="4.8" fill="#5B9BD5"/>
<text x="177.7" y="236.5" font-size="10" text-anchor="start" font-weight="bold" stroke="#000" stroke-width="0.2" fill="#000">C5</text>
<rect x="48.4" y="244.7" width="4.8" height="4.8" fill="#70AD47"/>
<text x="55.7" y="250.7" font-size="10" text-anchor="start" font-weight="bold" stroke="#000" stroke-width="0.2" fill="#000">C6</text>
<rect x="78.9" y="244.7" width="4.8" height="4.8" fill="#264478"/>
<text x="86.2" y="250.7" font-size="10" text-anchor="start" font-weight="bold" stroke="#000" stroke-width="0.2" fill="#000">C7</text>
<rect x="109.4" y="244.7" width="4.8" height="4.8" fill="#9E480E"/>
<text x="116.7" y="250.7" font-size="10" text-anchor="start" font-weight="bold" stroke="#000" stroke-width="0.2" fill="#000">C8</text>
<rect x="139.9" y="244.7" width="4.8" height="4.8" fill="#636363"/>
<text x="147.2" y="250.7" font-size="10" text-anchor="start" font-weight="bold" stroke="#000" stroke-width="0.2" fill="#000">C9</text>
<rect x="170.4" y="244.7" width="4.8" height="4.8" fill="#997300"/>
<text x="177.7" y="250.7" font-size="10" text-anchor="start" font-weight="bold" stroke="#000" stroke-width="0.2" fill="#000">C10</text>
<rect x="334.2" y="226.0" width="4.8" height="4.8" fill="#4472C4"/>
<text x="341.5" y="232.0" font-size="10" text-anchor="start" font-weight="bold" stroke="#000" stroke-width="0.2" fill="#000">C1</text>
<rect x="364.7" y="226.0" width="4.8" height="4.8" fill="#ED7D31"/>
<text x="372.0" y="232.0" font-size="10" text-anchor="start" font-weight="bold" stroke="#000" stroke-width="0.2" fill="#000">C2</text>
<rect x="395.2" y="226.0" width="4.8" height="4.8" fill="#A5A5A5"/>
<text x="402.5" y="232.0" font-size="10" text-anchor="start" font-weight="bold" stroke="#000" stroke-width="0.2" fill="#000">C3</text>
<rect x="425.7" y="226.0" width="4.8" height="4.8" fill="#FFC000"/>
<text x="433.0" y="232.0" font-size="10" text-anchor="start" font-weight="bold" stroke="#000" stroke-width="0.2" fill="#000">C4</text>
<rect x="456.2" y="226.0" width="4.8" height="4.8" fill="#5B9BD5"/>
<text x="463.5" y="232.0" font-size="10" text-anchor="start" font-weight="bold" stroke="#000" stroke-width="0.2" fill="#000">C5</text>
<rect x="334.2" y="239.8" width="4.8" height="4.8" fill="#70AD47"/>
<text x="341.5" y="245.8" font-size="10" text-anchor="start" font-weight="bold" stroke="#000" stroke-width="0.2" fill="#000">C6</text>
<rect x="364.7" y="239.8" width="4.8" height="4.8" fill="#264478"/>
<text x="372.0" y="245.8" font-size="10" text-anchor="start" font-weight="bold" stroke="#000" stroke-width="0.2" fill="#000">C7</text>
<rect x="395.2" y="239.8" width="4.8" height="4.8" fill="#9E480E"/>
<text x="402.5" y="245.8" font-size="10" text-anchor="start" font-weight="bold" stroke="#000" stroke-width="0.2" fill="#000">C8</text>
<rect x="425.7" y="239.8" width="4.8" height="4.8" fill="#636363"/>
<text x="433.0" y="245.8" font-size="10" text-anchor="start" font-weight="bold" stroke="#000" stroke-width="0.2" fill="#000">C9</text>
<rect x="456.2" y="239.8" width="4.8" height="4.8" fill="#997300"/>
<text x="463.5" y="245.8" font-size="10" text-anchor="start" font-weight="bold" stroke="#000" stroke-width="0.2" fill="#000">C10</text>
<text x="124.5" y="265.2" font-size="11.3" text-anchor="middle" fill="#000">(a)</text>
<text x="411.1" y="265.7" font-size="11.3" text-anchor="middle" fill="#000">(b)</text>
<line x1="150.8" y1="279.6" x2="375.0" y2="279.6" stroke="#D9D9D9" stroke-width="0.8"/>
<line x1="150.8" y1="307.8" x2="375.0" y2="307.8" stroke="#D9D9D9" stroke-width="0.8"/>
<line x1="150.8" y1="336.0" x2="375.0" y2="336.0" stroke="#D9D9D9" stroke-width="0.8"/>
<line x1="150.8" y1="364.3" x2="375.0" y2="364.3" stroke="#D9D9D9" stroke-width="0.8"/>
<line x1="150.8" y1="392.5" x2="375.0" y2="392.5" stroke="#D9D9D9" stroke-width="0.8"/>
<line x1="150.8" y1="420.7" x2="375.0" y2="420.7" stroke="#D9D9D9" stroke-width="0.8"/>
<line x1="150.8" y1="477.1" x2="375.0" y2="477.1" stroke="#D9D9D9" stroke-width="0.8"/>
<line x1="150.8" y1="505.3" x2="375.0" y2="505.3" stroke="#D9D9D9" stroke-width="0.8"/>
<line x1="150.8" y1="279.6" x2="150.8" y2="505.3" stroke="#000" stroke-width="0.9"/>
<line x1="150.8" y1="448.9" x2="375.0" y2="448.9" stroke="#000" stroke-width="0.9"/>
<line x1="150.8" y1="448.9" x2="150.8" y2="451.9" stroke="#000" stroke-width="0.9"/>
<line x1="188.4" y1="448.9" x2="188.4" y2="451.9" stroke="#000" stroke-width="0.9"/>
<line x1="226.0" y1="448.9" x2="226.0" y2="451.9" stroke="#000" stroke-width="0.9"/>
<line x1="263.6" y1="448.9" x2="263.6" y2="451.9" stroke="#000" stroke-width="0.9"/>
<line x1="301.2" y1="448.9" x2="301.2" y2="451.9" stroke="#000" stroke-width="0.9"/>
<line x1="338.8" y1="448.9" x2="338.8" y2="451.9" stroke="#000" stroke-width="0.9"/>
<line x1="376.4" y1="448.9" x2="376.4" y2="451.9" stroke="#000" stroke-width="0.9"/>
<line x1="147.8" y1="279.6" x2="150.8" y2="279.6" stroke="#000" stroke-width="0.9"/>
<text x="143.0" y="282.9" font-size="10.3" text-anchor="end" font-weight="bold" stroke="#000" stroke-width="0.2" fill="#000">30</text>
<line x1="147.8" y1="307.8" x2="150.8" y2="307.8" stroke="#000" stroke-width="0.9"/>
<text x="143.0" y="311.1" font-size="10.3" text-anchor="end" font-weight="bold" stroke="#000" stroke-width="0.2" fill="#000">25</text>
<line x1="147.8" y1="336.0" x2="150.8" y2="336.0" stroke="#000" stroke-width="0.9"/>
<text x="143.0" y="339.3" font-size="10.3" text-anchor="end" font-weight="bold" stroke="#000" stroke-width="0.2" fill="#000">20</text>
<line x1="147.8" y1="364.3" x2="150.8" y2="364.3" stroke="#000" stroke-width="0.9"/>
<text x="143.0" y="367.6" font-size="10.3" text-anchor="end" font-weight="bold" stroke="#000" stroke-width="0.2" fill="#000">15</text>
<line x1="147.8" y1="392.5" x2="150.8" y2="392.5" stroke="#000" stroke-width="0.9"/>
<text x="143.0" y="395.8" font-size="10.3" text-anchor="end" font-weight="bold" stroke="#000" stroke-width="0.2" fill="#000">10</text>
<line x1="147.8" y1="420.7" x2="150.8" y2="420.7" stroke="#000" stroke-width="0.9"/>
<text x="143.0" y="424.0" font-size="10.3" text-anchor="end" font-weight="bold" stroke="#000" stroke-width="0.2" fill="#000">5</text>
<line x1="147.8" y1="448.9" x2="150.8" y2="448.9" stroke="#000" stroke-width="0.9"/>
<text x="143.0" y="452.2" font-size="10.3" text-anchor="end" font-weight="bold" stroke="#000" stroke-width="0.2" fill="#000">0</text>
<line x1="147.8" y1="477.1" x2="150.8" y2="477.1" stroke="#000" stroke-width="0.9"/>
<text x="143.0" y="480.4" font-size="10.3" text-anchor="end" font-weight="bold" stroke="#000" stroke-width="0.2" fill="#000">−5</text>
<line x1="147.8" y1="505.3" x2="150.8" y2="505.3" stroke="#000" stroke-width="0.9"/>
<text x="143.0" y="508.6" font-size="10.3" text-anchor="end" font-weight="bold" stroke="#000" stroke-width="0.2" fill="#000">−10</text>
<polyline points="169.6,437.6 207.2,437.0 244.8,450.3 282.4,445.9 320.0,452.5 357.6,446.3" fill="none" stroke="#4472C4" stroke-width="2.2" stroke-linejoin="round" stroke-linecap="round"/>
<circle cx="169.6" cy="437.6" r="2.7" fill="#4472C4"/>
<circle cx="207.2" cy="437.0" r="2.7" fill="#4472C4"/>
<circle cx="244.8" cy="450.3" r="2.7" fill="#4472C4"/>
<circle cx="282.4" cy="445.9" r="2.7" fill="#4472C4"/>
<circle cx="320.0" cy="452.5" r="2.7" fill="#4472C4"/>
<circle cx="357.6" cy="446.3" r="2.7" fill="#4472C4"/>
<polyline points="169.6,424.1 207.2,424.1 244.8,451.6 282.4,442.9 320.0,456.2 357.6,443.7" fill="none" stroke="#ED7D31" stroke-width="2.2" stroke-linejoin="round" stroke-linecap="round"/>
<circle cx="169.6" cy="424.1" r="2.7" fill="#ED7D31"/>
<circle cx="207.2" cy="424.1" r="2.7" fill="#ED7D31"/>
<circle cx="244.8" cy="451.6" r="2.7" fill="#ED7D31"/>
<circle cx="282.4" cy="442.9" r="2.7" fill="#ED7D31"/>
<circle cx="320.0" cy="456.2" r="2.7" fill="#ED7D31"/>
<circle cx="357.6" cy="443.7" r="2.7" fill="#ED7D31"/>
<polyline points="169.6,410.5 207.2,411.1 244.8,453.0 282.4,439.9 320.0,459.8 357.6,441.1" fill="none" stroke="#A5A5A5" stroke-width="2.2" stroke-linejoin="round" stroke-linecap="round"/>
<circle cx="169.6" cy="410.5" r="2.7" fill="#A5A5A5"/>
<circle cx="207.2" cy="411.1" r="2.7" fill="#A5A5A5"/>
<circle cx="244.8" cy="453.0" r="2.7" fill="#A5A5A5"/>
<circle cx="282.4" cy="439.9" r="2.7" fill="#A5A5A5"/>
<circle cx="320.0" cy="459.8" r="2.7" fill="#A5A5A5"/>
<circle cx="357.6" cy="441.1" r="2.7" fill="#A5A5A5"/>
<polyline points="169.6,398.7 207.2,396.4 244.8,454.3 282.4,436.9 320.0,463.5 357.6,438.5" fill="none" stroke="#FFC000" stroke-width="2.2" stroke-linejoin="round" stroke-linecap="round"/>
<circle cx="169.6" cy="398.7" r="2.7" fill="#FFC000"/>
<circle cx="207.2" cy="396.4" r="2.7" fill="#FFC000"/>
<circle cx="244.8" cy="454.3" r="2.7" fill="#FFC000"/>
<circle cx="282.4" cy="436.9" r="2.7" fill="#FFC000"/>
<circle cx="320.0" cy="463.5" r="2.7" fill="#FFC000"/>
<circle cx="357.6" cy="438.5" r="2.7" fill="#FFC000"/>
<polyline points="169.6,385.7 207.2,381.7 244.8,455.7 282.4,433.9 320.0,467.1 357.6,435.9" fill="none" stroke="#5B9BD5" stroke-width="2.2" stroke-linejoin="round" stroke-linecap="round"/>
<circle cx="169.6" cy="385.7" r="2.7" fill="#5B9BD5"/>
<circle cx="207.2" cy="381.7" r="2.7" fill="#5B9BD5"/>
<circle cx="244.8" cy="455.7" r="2.7" fill="#5B9BD5"/>
<circle cx="282.4" cy="433.9" r="2.7" fill="#5B9BD5"/>
<circle cx="320.0" cy="467.1" r="2.7" fill="#5B9BD5"/>
<circle cx="357.6" cy="435.9" r="2.7" fill="#5B9BD5"/>
<polyline points="169.6,371.6 207.2,368.2 244.8,457.0 282.4,431.0 320.0,470.7 357.6,433.3" fill="none" stroke="#70AD47" stroke-width="2.2" stroke-linejoin="round" stroke-linecap="round"/>
<circle cx="169.6" cy="371.6" r="2.7" fill="#70AD47"/>
<circle cx="207.2" cy="368.2" r="2.7" fill="#70AD47"/>
<circle cx="244.8" cy="457.0" r="2.7" fill="#70AD47"/>
<circle cx="282.4" cy="431.0" r="2.7" fill="#70AD47"/>
<circle cx="320.0" cy="470.7" r="2.7" fill="#70AD47"/>
<circle cx="357.6" cy="433.3" r="2.7" fill="#70AD47"/>
<polyline points="169.6,358.0 207.2,356.4 244.8,458.4 282.4,428.0 320.0,474.4 357.6,430.7" fill="none" stroke="#264478" stroke-width="2.2" stroke-linejoin="round" stroke-linecap="round"/>
<circle cx="169.6" cy="358.0" r="2.7" fill="#264478"/>
<circle cx="207.2" cy="356.4" r="2.7" fill="#264478"/>
<circle cx="244.8" cy="458.4" r="2.7" fill="#264478"/>
<circle cx="282.4" cy="428.0" r="2.7" fill="#264478"/>
<circle cx="320.0" cy="474.4" r="2.7" fill="#264478"/>
<circle cx="357.6" cy="430.7" r="2.7" fill="#264478"/>
<polyline points="169.6,344.5 207.2,342.8 244.8,459.7 282.4,425.0 320.0,478.0 357.6,428.1" fill="none" stroke="#9E480E" stroke-width="2.2" stroke-linejoin="round" stroke-linecap="round"/>
<circle cx="169.6" cy="344.5" r="2.7" fill="#9E480E"/>
<circle cx="207.2" cy="342.8" r="2.7" fill="#9E480E"/>
<circle cx="244.8" cy="459.7" r="2.7" fill="#9E480E"/>
<circle cx="282.4" cy="425.0" r="2.7" fill="#9E480E"/>
<circle cx="320.0" cy="478.0" r="2.7" fill="#9E480E"/>
<circle cx="357.6" cy="428.1" r="2.7" fill="#9E480E"/>
<polyline points="169.6,331.5 207.2,328.1 244.8,461.1 282.4,422.0 320.0,481.7 357.6,425.5" fill="none" stroke="#636363" stroke-width="2.2" stroke-linejoin="round" stroke-linecap="round"/>
<circle cx="169.6" cy="331.5" r="2.7" fill="#636363"/>
<circle cx="207.2" cy="328.1" r="2.7" fill="#636363"/>
<circle cx="244.8" cy="461.1" r="2.7" fill="#636363"/>
<circle cx="282.4" cy="422.0" r="2.7" fill="#636363"/>
<circle cx="320.0" cy="481.7" r="2.7" fill="#636363"/>
<circle cx="357.6" cy="425.5" r="2.7" fill="#636363"/>
<polyline points="169.6,318.5 207.2,313.5 244.8,462.4 282.4,419.0 320.0,485.3 357.6,422.9" fill="none" stroke="#997300" stroke-width="2.2" stroke-linejoin="round" stroke-linecap="round"/>
<circle cx="169.6" cy="318.5" r="2.7" fill="#997300"/>
<circle cx="207.2" cy="313.5" r="2.7" fill="#997300"/>
<circle cx="244.8" cy="462.4" r="2.7" fill="#997300"/>
<circle cx="282.4" cy="419.0" r="2.7" fill="#997300"/>
<circle cx="320.0" cy="485.3" r="2.7" fill="#997300"/>
<circle cx="357.6" cy="422.9" r="2.7" fill="#997300"/>
<text x="169.6" y="465.2" font-size="10.4" text-anchor="middle" font-weight="bold" stroke="#000" stroke-width="0.2" fill="#000">Dres</text>
<text x="207.2" y="465.2" font-size="10.4" text-anchor="middle" font-weight="bold" stroke="#000" stroke-width="0.2" fill="#000">Drec</text>
<text x="244.8" y="465.2" font-size="10.4" text-anchor="middle" font-weight="bold" stroke="#000" stroke-width="0.2" fill="#000">Dresn</text>
<text x="282.4" y="465.2" font-size="10.4" text-anchor="middle" font-weight="bold" stroke="#000" stroke-width="0.2" fill="#000">Dresx</text>
<text x="320.0" y="465.2" font-size="10.4" text-anchor="middle" font-weight="bold" stroke="#000" stroke-width="0.2" fill="#000">Drecn</text>
<text x="357.6" y="465.2" font-size="10.4" text-anchor="middle" font-weight="bold" stroke="#000" stroke-width="0.2" fill="#000">Drecx</text>
<line x1="388.4" y1="474.9" x2="406.2" y2="474.9" stroke="#4472C4" stroke-width="2"/>
<circle cx="397.3" cy="474.9" r="2.5" fill="#4472C4"/>
<text x="407.5" y="478.3" font-size="10" text-anchor="start" font-weight="bold" stroke="#000" stroke-width="0.2" fill="#000">C1</text>
<line x1="388.4" y1="458.2" x2="406.2" y2="458.2" stroke="#ED7D31" stroke-width="2"/>
<circle cx="397.3" cy="458.2" r="2.5" fill="#ED7D31"/>
<text x="407.5" y="461.6" font-size="10" text-anchor="start" font-weight="bold" stroke="#000" stroke-width="0.2" fill="#000">C2</text>
<line x1="388.4" y1="441.4" x2="406.2" y2="441.4" stroke="#A5A5A5" stroke-width="2"/>
<circle cx="397.3" cy="441.4" r="2.5" fill="#A5A5A5"/>
<text x="407.5" y="444.8" font-size="10" text-anchor="start" font-weight="bold" stroke="#000" stroke-width="0.2" fill="#000">C3</text>
<line x1="388.4" y1="424.7" x2="406.2" y2="424.7" stroke="#FFC000" stroke-width="2"/>
<circle cx="397.3" cy="424.7" r="2.5" fill="#FFC000"/>
<text x="407.5" y="428.1" font-size="10" text-anchor="start" font-weight="bold" stroke="#000" stroke-width="0.2" fill="#000">C4</text>
<line x1="388.4" y1="408.0" x2="406.2" y2="408.0" stroke="#5B9BD5" stroke-width="2"/>
<circle cx="397.3" cy="408.0" r="2.5" fill="#5B9BD5"/>
<text x="407.5" y="411.4" font-size="10" text-anchor="start" font-weight="bold" stroke="#000" stroke-width="0.2" fill="#000">C5</text>
<line x1="388.4" y1="391.3" x2="406.2" y2="391.3" stroke="#70AD47" stroke-width="2"/>
<circle cx="397.3" cy="391.3" r="2.5" fill="#70AD47"/>
<text x="407.5" y="394.7" font-size="10" text-anchor="start" font-weight="bold" stroke="#000" stroke-width="0.2" fill="#000">C6</text>
<line x1="388.4" y1="374.6" x2="406.2" y2="374.6" stroke="#264478" stroke-width="2"/>
<circle cx="397.3" cy="374.6" r="2.5" fill="#264478"/>
<text x="407.5" y="378.0" font-size="10" text-anchor="start" font-weight="bold" stroke="#000" stroke-width="0.2" fill="#000">C7</text>
<line x1="388.4" y1="357.8" x2="406.2" y2="357.8" stroke="#9E480E" stroke-width="2"/>
<circle cx="397.3" cy="357.8" r="2.5" fill="#9E480E"/>
<text x="407.5" y="361.2" font-size="10" text-anchor="start" font-weight="bold" stroke="#000" stroke-width="0.2" fill="#000">C8</text>
<line x1="388.4" y1="341.1" x2="406.2" y2="341.1" stroke="#636363" stroke-width="2"/>
<circle cx="397.3" cy="341.1" r="2.5" fill="#636363"/>
<text x="407.5" y="344.5" font-size="10" text-anchor="start" font-weight="bold" stroke="#000" stroke-width="0.2" fill="#000">C9</text>
<line x1="388.4" y1="324.4" x2="406.2" y2="324.4" stroke="#997300" stroke-width="2"/>
<circle cx="397.3" cy="324.4" r="2.5" fill="#997300"/>
<text x="407.5" y="327.8" font-size="10" text-anchor="start" font-weight="bold" stroke="#000" stroke-width="0.2" fill="#000">C10</text>
<text x="263.6" y="517.0" font-size="10.5" text-anchor="middle" font-weight="bold" stroke="#000" stroke-width="0.2" fill="#000">Derivative parameter</text>
<text x="122.8" y="392.4" font-size="10.4" text-anchor="middle" font-weight="bold" stroke="#000" stroke-width="0.2" fill="#000" transform="rotate(-90 122.8 392.4)">Derivative value</text>
<text x="268.8" y="532.5" font-size="11.3" text-anchor="middle" fill="#000">(c)</text>
</svg>
</body></html>
